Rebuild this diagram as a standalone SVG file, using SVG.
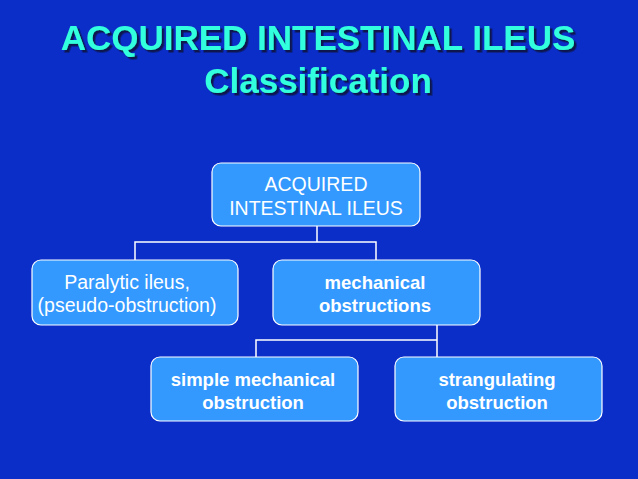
<svg xmlns="http://www.w3.org/2000/svg" width="638" height="479" viewBox="0 0 638 479">
<defs>
<filter id="sh" x="-5%" y="-20%" width="110%" height="140%">
<feDropShadow dx="2.5" dy="2.5" stdDeviation="0.4" flood-color="#0a1450" flood-opacity="1"/>
</filter>
</defs>
<style>
.t{font-family:"Liberation Sans",Arial,sans-serif;font-weight:bold;font-size:35px;text-anchor:middle;fill:#33ffdd}
.b{fill:#3399ff;stroke:#ffffff;stroke-width:1.2}
.l{font-family:"Liberation Sans",Arial,sans-serif;font-size:19.5px;fill:#ffffff;text-anchor:middle}
.bd{font-weight:bold;font-size:18.5px}
.c{stroke:#ffffff;stroke-width:1.5;fill:none}
</style>
<rect width="638" height="479" fill="#0b2ec8"/>
<g id="title" filter="url(#sh)">
<text class="t" x="318" y="50">ACQUIRED INTESTINAL ILEUS</text>
<text class="t" x="318" y="93">Classification</text>
</g>
<g id="connectors">
<path class="c" d="M317 226V242M135 260V242H376V260"/>
<path class="c" d="M437 325V357M256 357V340H437"/>
</g>
<g id="root"><rect class="b" x="212" y="163" width="208" height="63" rx="9"/>
<text class="l" x="316" y="191">ACQUIRED</text><text class="l" x="316" y="215">INTESTINAL ILEUS</text></g>
<g id="paralytic"><rect class="b" x="32" y="260" width="206" height="65" rx="9"/>
<text class="l" x="127" y="289">Paralytic ileus,</text><text class="l" x="127" y="312">(pseudo-obstruction)</text></g>
<g id="mechanical"><rect class="b" x="273" y="260" width="207" height="65" rx="9"/>
<text class="l bd" x="375" y="289">mechanical</text><text class="l bd" x="375" y="312">obstructions</text></g>
<g id="simple"><rect class="b" x="151" y="357" width="207" height="64" rx="9"/>
<text class="l bd" x="253" y="386">simple mechanical</text><text class="l bd" x="253" y="409">obstruction</text></g>
<g id="strangulating"><rect class="b" x="395" y="357" width="207" height="64" rx="9"/>
<text class="l bd" x="497" y="386">strangulating</text><text class="l bd" x="497" y="409">obstruction</text></g>
</svg>
